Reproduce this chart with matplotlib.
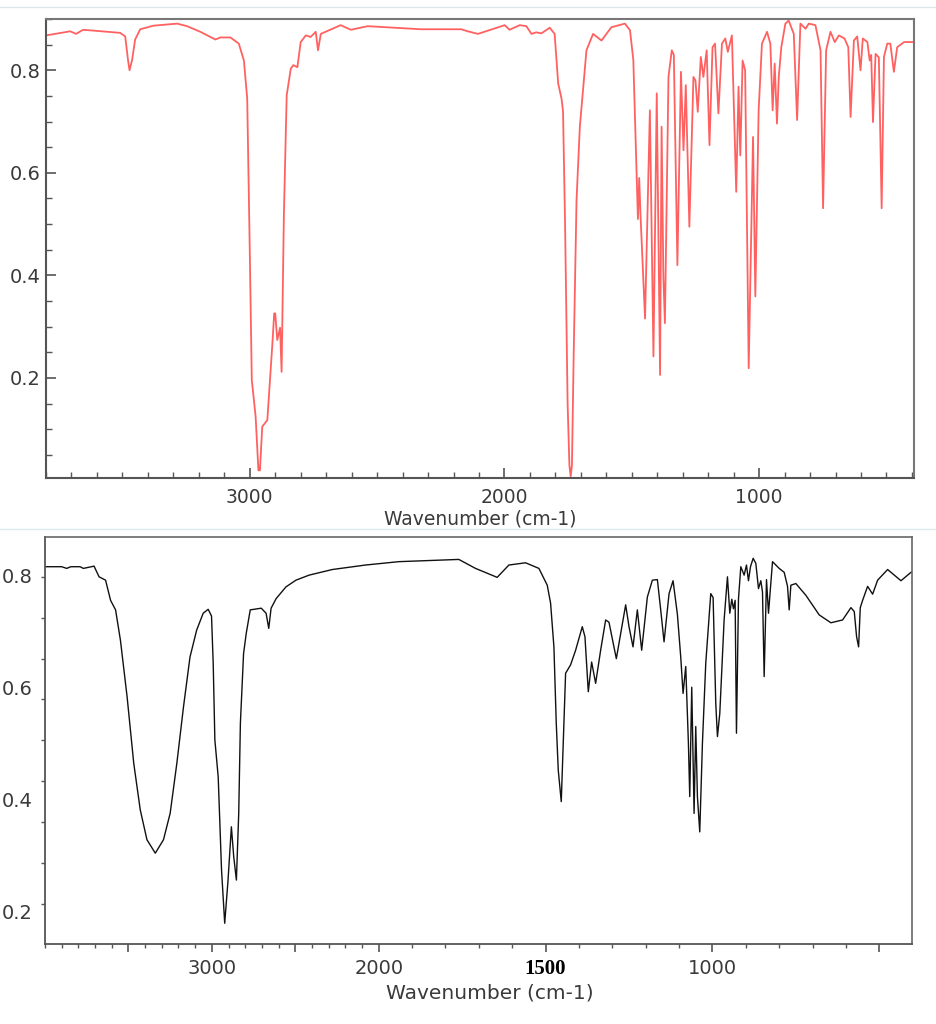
import numpy as np
import matplotlib
matplotlib.use("Agg")
import matplotlib.pyplot as plt
from matplotlib.ticker import FixedLocator, FixedFormatter, MultipleLocator
from matplotlib.lines import Line2D

# ---------------- data ----------------
top_wavenumber = [3800, 3705, 3682, 3654, 3509, 3489, 3478, 3472, 3462, 3450, 3430, 3378, 3285, 3246,
                  3194, 3135, 3115, 3076, 3043, 3023, 3010, 3000, 2992, 2977, 2966, 2960, 2951, 2931,
                  2911, 2904, 2900, 2892, 2881, 2875, 2866, 2855, 2839, 2829, 2813, 2800, 2780, 2761,
                  2741, 2732, 2721, 2643, 2603, 2537, 2328, 2170, 2144, 2104, 1999, 1980, 1940, 1914,
                  1894, 1875, 1855, 1822, 1803, 1789, 1776, 1770, 1762, 1752, 1745, 1740, 1735, 1728,
                  1717, 1704, 1678, 1652, 1619, 1580, 1527, 1507, 1494, 1481, 1476, 1471, 1466, 1448,
                  1429, 1415, 1402, 1389, 1383, 1376, 1370, 1356, 1343, 1335, 1321, 1307, 1297, 1288,
                  1274, 1258, 1250, 1241, 1229, 1219, 1206, 1195, 1183, 1173, 1160, 1146, 1133, 1123,
                  1107, 1090, 1081, 1074, 1065, 1055, 1041, 1024, 1015, 1002, 989, 969, 956, 947, 939,
                  930, 923, 913, 897, 884, 864, 851, 838, 818, 805, 779, 759, 749, 737, 720, 703, 687,
                  665, 650, 641, 628, 615, 602, 593, 575, 566, 560, 553, 543, 530, 519, 510, 497, 485,
                  471, 458, 431, 385]
top_transmittance = [0.868, 0.876, 0.871, 0.879, 0.873, 0.866, 0.82, 0.80, 0.82, 0.86, 0.88, 0.887, 0.891, 0.886,
                     0.875, 0.86, 0.864, 0.864, 0.852, 0.819, 0.745, 0.45, 0.196, 0.125, 0.02, 0.02, 0.105, 0.118,
                     0.268, 0.326, 0.326, 0.274, 0.298, 0.212, 0.518, 0.751, 0.803, 0.81, 0.806, 0.855, 0.868, 0.865,
                     0.875, 0.839, 0.871, 0.888, 0.879, 0.886, 0.88, 0.88, 0.876, 0.871, 0.888, 0.879, 0.888, 0.886,
                     0.871, 0.874, 0.872, 0.883, 0.871, 0.774, 0.745, 0.72, 0.5, 0.15, 0.03, 0.008, 0.03, 0.25,
                     0.547, 0.69, 0.839, 0.871, 0.858, 0.884, 0.891, 0.878, 0.82, 0.592, 0.51, 0.59, 0.52, 0.316,
                     0.722, 0.242, 0.755, 0.206, 0.69, 0.397, 0.307, 0.787, 0.839, 0.83, 0.42, 0.797, 0.644, 0.771,
                     0.495, 0.787, 0.78, 0.719, 0.826, 0.787, 0.839, 0.654, 0.845, 0.852, 0.716, 0.852, 0.862, 0.836,
                     0.868, 0.563, 0.768, 0.634, 0.819, 0.80, 0.219, 0.67, 0.359, 0.722, 0.852, 0.875, 0.852, 0.722, 0.813,
                     0.696, 0.787, 0.845, 0.891, 0.897, 0.871, 0.703, 0.891, 0.881, 0.891, 0.888, 0.839, 0.531, 0.839, 0.875, 0.855, 0.868,
                     0.862, 0.845, 0.709, 0.858, 0.866, 0.80, 0.862, 0.855, 0.819, 0.83, 0.699, 0.832, 0.825, 0.531, 0.826, 0.852, 0.852,
                     0.797, 0.845, 0.855, 0.855]

bottom_wavenumber = [4000, 3900, 3870, 3845, 3790, 3770, 3706, 3676, 3637, 3607, 3577, 3548, 3508, 3468,
                     3429, 3389, 3339, 3290, 3250, 3210, 3170, 3131, 3091, 3052, 3022, 3002, 2992, 2982,
                     2962, 2942, 2923, 2903, 2883, 2869, 2853, 2839, 2829, 2810, 2794, 2770, 2704, 2675,
                     2659, 2645, 2615, 2556, 2496, 2417, 2278, 2079, 1940, 1760, 1710, 1645, 1610, 1560,
                     1520, 1495, 1485, 1475, 1468, 1462, 1453, 1447, 1440, 1425, 1410, 1390, 1382, 1372,
                     1362, 1350, 1335, 1320, 1310, 1288, 1275, 1260, 1250, 1238, 1225, 1212, 1195, 1180,
                     1165, 1155, 1145, 1130, 1118, 1105, 1095, 1088, 1080, 1072, 1068, 1062, 1055, 1050,
                     1045, 1038, 1030, 1020, 1005, 998, 990, 985, 978, 965, 955, 948, 942, 937, 932, 928,
                     922, 915, 905, 898, 892, 886, 878, 870, 862, 855, 850, 845, 838, 832, 820, 800, 785,
                     775, 770, 765, 750, 720, 680, 645, 610, 585, 575, 568, 562, 557, 550, 535, 520, 505,
                     475, 455, 435, 405, 400]
bottom_transmittance = [0.815, 0.815, 0.812, 0.815, 0.815, 0.812, 0.816, 0.797, 0.791, 0.755, 0.738, 0.684, 0.583, 0.464,
                        0.381, 0.328, 0.304, 0.328, 0.375, 0.464, 0.565, 0.654, 0.702, 0.732, 0.739, 0.727, 0.643, 0.506,
                        0.44, 0.274, 0.179, 0.256, 0.351, 0.298, 0.256, 0.375, 0.536, 0.66, 0.696, 0.738, 0.741, 0.732,
                        0.705, 0.741, 0.758, 0.779, 0.791, 0.80, 0.81, 0.818, 0.824, 0.828, 0.812, 0.796, 0.818, 0.822,
                        0.812, 0.782, 0.75, 0.672, 0.536, 0.452, 0.396, 0.50, 0.625, 0.64, 0.666, 0.708, 0.69, 0.592,
                        0.645, 0.607, 0.666, 0.72, 0.716, 0.651, 0.696, 0.747, 0.708, 0.672, 0.738, 0.666, 0.761, 0.791,
                        0.792, 0.738, 0.681, 0.767, 0.79, 0.73, 0.654, 0.589, 0.637, 0.50, 0.405, 0.60, 0.375, 0.53,
                        0.405, 0.342, 0.50, 0.643, 0.767, 0.76, 0.571, 0.512, 0.553, 0.72, 0.797, 0.732, 0.757, 0.74, 0.755, 0.518,
                        0.757, 0.815, 0.80, 0.818, 0.79, 0.815, 0.83, 0.821, 0.776, 0.79, 0.77, 0.619, 0.792, 0.732, 0.824, 0.812, 0.805,
                        0.78, 0.738, 0.782, 0.785, 0.764, 0.729, 0.715, 0.72, 0.742, 0.735, 0.69, 0.672, 0.742, 0.755, 0.78, 0.766, 0.791,
                        0.81, 0.80, 0.79, 0.805, 0.806]

top_ytick_values = [0.2, 0.4, 0.6, 0.8]
top_ytick_labels = ["0.2", "0.4", "0.6", "0.8"]
top_xtick_values = [3000, 2000, 1000]
top_xtick_labels = ["3000", "2000", "1000"]
bottom_ytick_values = [0.2, 0.4, 0.6, 0.8]
bottom_ytick_labels = ["0.2", "0.4", "0.6", "0.8"]
bottom_xtick_values = [3500, 3000, 2500, 2000, 1500, 1000, 500]
bottom_xtick_labels = ["", "3000", "", "2000", "1500", "1000", ""]
xlabel_text = "Wavenumber (cm-1)"

# ---------------- figure ----------------
W, H = 937, 1024
fig = plt.figure(figsize=(W / 100, H / 100), dpi=100)
fig.patch.set_facecolor("white")

def fr(x0, y0, x1, y1):
    return [x0 / W, 1 - y1 / H, (x1 - x0) / W, (y1 - y0) / H]

label_color = "#3a3a3a"
spine_color = "#555555"

# ---- top panel ----
ax1 = fig.add_axes(fr(46, 19, 914, 478))
ax1.plot(top_wavenumber, top_transmittance, color="#ff5050", lw=1.3, alpha=0.9)
ax1.set_xlim(3800, 392)
ax1.set_ylim(0.005, 0.9)
ax1.xaxis.set_major_locator(FixedLocator(top_xtick_values))
ax1.xaxis.set_major_formatter(FixedFormatter(top_xtick_labels))
ax1.xaxis.set_minor_locator(MultipleLocator(100))
ax1.yaxis.set_major_locator(FixedLocator(top_ytick_values))
ax1.yaxis.set_major_formatter(FixedFormatter(top_ytick_labels))
ax1.yaxis.set_minor_locator(MultipleLocator(0.05))
ax1.tick_params(which="both", direction="in", colors=spine_color, labelcolor=label_color)
ax1.tick_params(which="major", length=7, width=1.2, labelsize=13.5)
ax1.tick_params(which="minor", length=4, width=1.0)
ax1.tick_params(axis="x", which="major", pad=7)
ax1.tick_params(axis="y", which="major", pad=4, labelsize=14)
for s in ["left", "bottom"]:
    ax1.spines[s].set_color(spine_color)
    ax1.spines[s].set_linewidth(1.5)
for s in ["top", "right"]:
    ax1.spines[s].set_color("#777777")
    ax1.spines[s].set_linewidth(1.5)
fig.text(480 / W, 1 - 519 / H, xlabel_text, ha="center", va="center",
         fontsize=13.5, color=label_color)

# ---- bottom panel (two-scale IR axis, expanded below 2000) ----
def fwd(w):
    w = np.asarray(w, dtype=float)
    return np.where(w > 2000, 2000 + (w - 2000) / 2.0, w)

def inv(u):
    u = np.asarray(u, dtype=float)
    return np.where(u > 2000, 2000 + (u - 2000) * 2.0, u)

ax2 = fig.add_axes(fr(45, 537, 912, 944))
ax2.set_xscale("function", functions=(fwd, inv))
ax2.plot(bottom_wavenumber, bottom_transmittance, color="#111111", lw=1.0)
ax2.set_xlim(4000, 402)
ax2.set_ylim(0.142, 0.868)
ax2.xaxis.set_major_locator(FixedLocator(bottom_xtick_values))
ax2.xaxis.set_major_formatter(FixedFormatter(bottom_xtick_labels))
ax2.xaxis.set_minor_locator(MultipleLocator(100))
ax2.yaxis.set_major_locator(FixedLocator(bottom_ytick_values))
ax2.yaxis.set_major_formatter(FixedFormatter(bottom_ytick_labels))
ax2.yaxis.set_minor_locator(FixedLocator(np.arange(0.797, 0.15, -0.0729)))
ax2.tick_params(which="both", direction="out", colors=spine_color, labelcolor=label_color)
ax2.tick_params(axis="x", which="major", length=6, width=1.2, labelsize=14, pad=5)
ax2.tick_params(axis="x", which="minor", length=3, width=1.0)
ax2.tick_params(axis="y", which="major", length=0, labelsize=14, pad=9)
ax2.tick_params(axis="y", which="minor", length=3, width=1.0)
for s in ["left", "bottom"]:
    ax2.spines[s].set_color(spine_color)
    ax2.spines[s].set_linewidth(1.3)
for s in ["top", "right"]:
    ax2.spines[s].set_color("#666666")
    ax2.spines[s].set_linewidth(1.2)
fig.canvas.draw()
for lab in ax2.get_xticklabels():
    if lab.get_text() == "1500":
        lab.set_fontfamily("Liberation Serif")
        lab.set_fontweight("bold")
        lab.set_color("black")
        lab.set_fontsize(15)
fig.text(490 / W, 1 - 993 / H, xlabel_text, ha="center", va="center",
         fontsize=14.5, color=label_color)

# light separator rules
fig.add_artist(Line2D([0, 1], [1 - 7 / H, 1 - 7 / H], color="#dce9ec", lw=1.0))
fig.add_artist(Line2D([0, 1], [1 - 529 / H, 1 - 529 / H], color="#dce9ec", lw=1.0))

fig.savefig("out.png", dpi=100, facecolor="white")
